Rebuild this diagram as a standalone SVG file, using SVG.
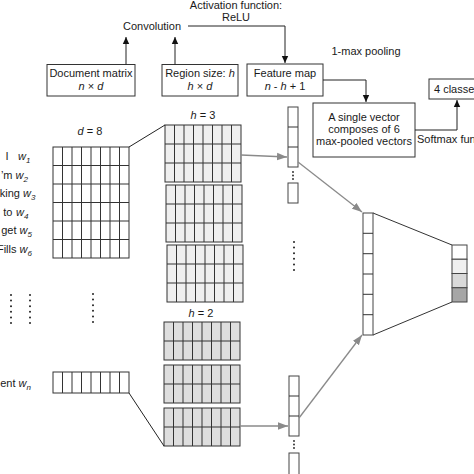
<svg xmlns="http://www.w3.org/2000/svg" width="474" height="474" viewBox="0 0 474 474">
<style>
text{font-family:"Liberation Sans",Arial,sans-serif;font-size:11px;fill:#1a1a1a}
.c{text-anchor:middle}
.e{text-anchor:end}
.i{font-style:italic}
.box{fill:#fff;stroke:#333;stroke-width:1}
.g{fill:none;stroke:#333;stroke-width:1}
.m3{fill:#efefef;stroke:#333;stroke-width:1}
.m2{fill:#dedede;stroke:#333;stroke-width:1}
.v{fill:#fff;stroke:#444;stroke-width:1}
.blk{fill:none;stroke:#222;stroke-width:1}
.gry{fill:none;stroke:#8a8a8a;stroke-width:1.3}
.dot{fill:#222}
</style>
<defs>
<marker id="ab" markerWidth="8" markerHeight="8" refX="7" refY="4" orient="auto" markerUnits="userSpaceOnUse"><path d="M0,0.8 L7,4 L0,7.2z" fill="#111"/></marker>
<marker id="ag" markerWidth="11" markerHeight="9" refX="10" refY="4.5" orient="auto" markerUnits="userSpaceOnUse"><path d="M0,0.8 L10,4.5 L0,8.2z" fill="#8a8a8a"/></marker>
</defs>

<g id="title-activation">
<text class="c" x="236" y="9">Activation function:</text>
<text class="c" x="236" y="21">ReLU</text>
</g>
<g id="convolution"><text class="c" x="152" y="30">Convolution</text></g>
<g id="pooling-label"><text class="c" x="366" y="55">1-max pooling</text></g>
<g id="softmax-label"><text x="417" y="143">Softmax function</text></g>

<g id="doc-matrix-box">
<rect class="box" x="47" y="64.5" width="88" height="31.5"/>
<text class="c" x="91" y="77">Document matrix</text>
<text class="c" x="91" y="90"><tspan class="i">n</tspan> × <tspan class="i">d</tspan></text>
</g>
<g id="region-size-box">
<rect class="box" x="162" y="64.5" width="76" height="31.5"/>
<text class="c" x="200" y="77">Region size: <tspan class="i">h</tspan></text>
<text class="c" x="200" y="90"><tspan class="i">h</tspan> × <tspan class="i">d</tspan></text>
</g>
<g id="feature-map-box">
<rect class="box" x="247" y="64" width="76" height="32"/>
<text class="c" x="285" y="77">Feature map</text>
<text class="c" x="285" y="90"><tspan class="i">n</tspan> - <tspan class="i">h</tspan> + 1</text>
</g>
<g id="single-vector-box">
<rect class="box" x="313" y="103" width="102" height="54"/>
<text class="c" x="364" y="121">A single vector</text>
<text class="c" x="364" y="133">composes of 6</text>
<text class="c" x="364" y="145">max-pooled vectors</text>
</g>
<g id="classes-box">
<rect class="box" x="429" y="79" width="52" height="20"/>
<text x="434" y="93">4 classes</text>
</g>

<g id="word-labels">
<text class="e" x="8.5" y="160">I</text><text class="i" x="18" y="160">w<tspan font-size="8" dy="2.5">1</tspan></text>
<text class="e" x="12.5" y="179">’m</text><text class="i" x="15.5" y="179">w<tspan font-size="8" dy="2.5">2</tspan></text>
<text class="e" x="20" y="197">king</text><text class="i" x="23" y="197">w<tspan font-size="8" dy="2.5">3</tspan></text>
<text class="e" x="12.5" y="216">to</text><text class="i" x="16" y="216">w<tspan font-size="8" dy="2.5">4</tspan></text>
<text class="e" x="16.5" y="234">get</text><text class="i" x="19.5" y="234">w<tspan font-size="8" dy="2.5">5</tspan></text>
<text class="e" x="16.5" y="253">Fills</text><text class="i" x="19.5" y="253">w<tspan font-size="8" dy="2.5">6</tspan></text>
<text class="e" x="15.5" y="387">ent</text><text class="i" x="18.5" y="387">w<tspan font-size="8" dy="2.5">n</tspan></text>
</g>

<g id="embedding-matrix">
<text class="c" x="90" y="135"><tspan class="i">d</tspan> = 8</text>
<rect class="box" x="53" y="147" width="76" height="111"/>
<path class="g" d="M62.5 147V258M72 147V258M81.5 147V258M91 147V258M100.5 147V258M110 147V258M119.5 147V258M53 165.5H129M53 184H129M53 202.5H129M53 221H129M53 239.5H129"/>
<rect class="box" x="53" y="372" width="76" height="21"/>
<path class="g" d="M62.5 372V393M72 372V393M81.5 372V393M91 372V393M100.5 372V393M110 372V393M119.5 372V393"/>
</g>

<g id="left-dots">
<circle class="dot" cx="11" cy="295" r="1"/><circle class="dot" cx="11" cy="300.6" r="1"/><circle class="dot" cx="11" cy="306.2" r="1"/><circle class="dot" cx="11" cy="311.8" r="1"/><circle class="dot" cx="11" cy="317.4" r="1"/><circle class="dot" cx="11" cy="323" r="1"/>
<circle class="dot" cx="30" cy="295" r="1"/><circle class="dot" cx="30" cy="300.6" r="1"/><circle class="dot" cx="30" cy="306.2" r="1"/><circle class="dot" cx="30" cy="311.8" r="1"/><circle class="dot" cx="30" cy="317.4" r="1"/><circle class="dot" cx="30" cy="323" r="1"/>
<circle class="dot" cx="93" cy="294" r="1"/><circle class="dot" cx="93" cy="299.6" r="1"/><circle class="dot" cx="93" cy="305.2" r="1"/><circle class="dot" cx="93" cy="310.8" r="1"/><circle class="dot" cx="93" cy="316.4" r="1"/><circle class="dot" cx="93" cy="322" r="1"/>
</g>

<g id="filters-h3">
<text class="c" x="203" y="119"><tspan class="i">h</tspan> = 3</text>
<rect class="m3" x="165" y="125" width="76" height="57"/>
<path class="g" d="M174.5 125V182M184 125V182M193.5 125V182M203 125V182M212.5 125V182M222 125V182M231.5 125V182M165 144H241M165 163H241"/>
<rect class="m3" x="166" y="185" width="76" height="57"/>
<path class="g" d="M175.5 185V242M185 185V242M194.5 185V242M204 185V242M213.5 185V242M223 185V242M232.5 185V242M166 204H242M166 223H242"/>
<rect class="m3" x="167" y="245" width="76" height="57"/>
<path class="g" d="M176.5 245V302M186 245V302M195.5 245V302M205 245V302M214.5 245V302M224 245V302M233.5 245V302M167 264H243M167 283H243"/>
</g>

<g id="filters-h2">
<text class="c" x="201" y="317"><tspan class="i">h</tspan> = 2</text>
<rect class="m2" x="164" y="322" width="76" height="38"/>
<path class="g" d="M173.5 322V360M183 322V360M192.5 322V360M202 322V360M211.5 322V360M221 322V360M230.5 322V360M164 341H240"/>
<rect class="m2" x="164" y="365" width="76" height="38"/>
<path class="g" d="M173.5 365V403M183 365V403M192.5 365V403M202 365V403M211.5 365V403M221 365V403M230.5 365V403M164 384H240"/>
<rect class="m2" x="164" y="408" width="76" height="38"/>
<path class="g" d="M173.5 408V446M183 408V446M192.5 408V446M202 408V446M211.5 408V446M221 408V446M230.5 408V446M164 427H240"/>
</g>

<g id="feature-vector-top">
<rect class="v" x="288" y="107" width="10" height="60"/>
<path class="g" d="M288 127H298M288 147H298"/>
<circle class="dot" cx="293" cy="172" r="0.9"/><circle class="dot" cx="293" cy="175.5" r="0.9"/><circle class="dot" cx="293" cy="179" r="0.9"/>
<rect class="v" x="288" y="183" width="10" height="20"/>
</g>
<g id="middle-dots">
<circle class="dot" cx="294" cy="242" r="1"/><circle class="dot" cx="294" cy="247.6" r="1"/><circle class="dot" cx="294" cy="253.2" r="1"/><circle class="dot" cx="294" cy="258.8" r="1"/><circle class="dot" cx="294" cy="264.4" r="1"/><circle class="dot" cx="294" cy="270" r="1"/>
</g>
<g id="feature-vector-bottom">
<rect class="v" x="289" y="376" width="10" height="60"/>
<path class="g" d="M289 396H299M289 416H299"/>
<circle class="dot" cx="294" cy="441" r="0.9"/><circle class="dot" cx="294" cy="444.5" r="0.9"/><circle class="dot" cx="294" cy="448" r="0.9"/>
<rect class="v" x="289" y="453" width="10" height="26"/>
</g>

<g id="pooled-vector">
<path class="g" d="M373 213L452 245M373 335L452 302"/>
<rect class="v" x="363" y="213" width="10" height="122"/>
<path class="g" d="M363 233.3H373M363 253.7H373M363 274H373M363 294.3H373M363 314.7H373"/>
</g>
<g id="output-vector">
<rect x="452" y="245" width="15" height="14.25" fill="#ffffff" stroke="#444"/>
<rect x="452" y="259.25" width="15" height="14.25" fill="#f0f0f0" stroke="#444"/>
<rect x="452" y="273.5" width="15" height="14.25" fill="#d9d9d9" stroke="#444"/>
<rect x="452" y="287.75" width="15" height="14.25" fill="#a6a6a6" stroke="#444"/>
</g>

<g id="connectors">
<path class="blk" d="M126 64.5V37" marker-end="url(#ab)"/>
<path class="blk" d="M175 64.5V37" marker-end="url(#ab)"/>
<path class="blk" d="M188 26H285V63" marker-end="url(#ab)"/>
<path class="blk" d="M323 80H366V102" marker-end="url(#ab)"/>
<path class="blk" d="M415 130H457V100" marker-end="url(#ab)"/>
<path class="blk" d="M129 147L165 125"/>
<path class="blk" d="M129 393L164 446"/>
<path class="gry" d="M241 155L287 157" marker-end="url(#ag)"/>
<path class="gry" d="M298 162L362 212" marker-end="url(#ag)"/>
<path class="gry" d="M240 426H288" marker-end="url(#ag)"/>
<path class="gry" d="M299 418L362 335" marker-end="url(#ag)"/>
</g>
</svg>
